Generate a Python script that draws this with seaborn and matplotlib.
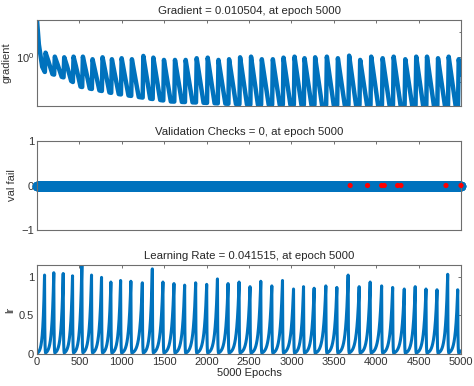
import numpy as np
import pandas as pd
import seaborn as sns
import matplotlib
matplotlib.use("Agg")
from matplotlib import pyplot as plt
from matplotlib.ticker import FixedLocator, NullFormatter

# learning-rate sawtooth: peak epochs and peak heights
lr_peak_epochs = [89, 198, 309, 419, 529, 643, 761, 871, 986, 1107,
                  1242, 1360, 1485, 1615, 1741, 1871, 2001, 2128, 2253, 2383,
                  2512, 2639, 2769, 2895, 3025, 3143, 3268, 3406, 3536, 3669,
                  3799, 3929, 4064, 4194, 4331, 4460, 4587, 4717, 4843, 4961]
lr_peak_values = [1.02, 1.05, 1.04, 1.01, 1.14, 1.02, 0.99, 0.93, 0.95, 0.94,
                  0.92, 1.10, 0.93, 0.91, 0.89, 0.92, 0.90, 0.97, 0.91, 0.93,
                  0.87, 0.94, 0.88, 0.95, 0.84, 0.87, 0.85, 0.88, 0.86, 1.02,
                  0.87, 0.93, 0.88, 0.86, 0.84, 0.87, 0.84, 0.83, 1.03, 0.83]
lr_start = 0.01
lr_final = 0.041515
lr_dec = 0.7       # factor per epoch after a peak
lr_dec_epochs = 12

# gradient teeth (one per lr peak) and the slowly falling floor between them
grad_peak_values = [1.49, 1.03, 0.97, 1.03, 1.03, 0.81, 0.97, 0.81, 0.89, 0.81,
                    1.10, 0.94, 0.76, 0.76, 0.76, 0.89, 0.94, 0.76, 0.81, 0.97,
                    1.03, 0.81, 0.81, 0.94, 1.03, 0.89, 0.97, 1.03, 0.89, 1.13,
                    0.76, 1.03, 0.89, 1.03, 0.81, 1.03, 1.03, 0.89, 1.03, 0.81]
grad_floor_epochs = [0, 20, 60, 90, 350, 515, 905, 1300, 1576, 2500, 5000]
grad_floor_values = [31, 3.6, 0.41, 0.25, 0.138, 0.063, 0.034, 0.0216, 0.016, 0.012, 0.011]
grad_lag = 12
grad_rise = 8
grad_decay = 80

# epochs where the validation-fail panel shows red markers
valfail_red_epochs = [3693, 3898, 4064, 4095, 4253, 4292, 4823, 5000]

n_epochs = 5000
blue = "#0072BD"

epochs = np.arange(0, n_epochs + 1)

# learning rate: geometric climb to each peak, then cut by lr_dec per epoch
lr = np.zeros(len(epochs))
start_e, start_v = 0, lr_start
for pe, pv in zip(lr_peak_epochs, lr_peak_values):
    seg = np.arange(start_e, pe + 1)
    lr[seg] = start_v * (pv / start_v) ** ((seg - start_e) / (pe - start_e))
    for d in range(1, lr_dec_epochs + 1):
        if pe + d <= n_epochs:
            lr[pe + d] = pv * lr_dec ** d
    start_e = min(pe + lr_dec_epochs, n_epochs)
    start_v = lr[start_e]
seg = np.arange(start_e, n_epochs + 1)
lr[seg] = start_v * (lr_final / start_v) ** ((seg - start_e) / (n_epochs - start_e))

# gradient: log-interpolated floor with a tooth after every lr peak
log_floor = np.interp(epochs, grad_floor_epochs, np.log10(grad_floor_values))
log_g = log_floor.copy()
for pe, pv in zip(lr_peak_epochs, grad_peak_values):
    pk = pe + grad_lag
    lv = np.log10(pv)
    t = epochs
    rise = (t >= pk - grad_rise) & (t <= pk)
    tooth = np.full(len(t), -np.inf)
    tooth[rise] = log_floor[rise] + (lv - log_floor[rise]) * (t[rise] - (pk - grad_rise)) / grad_rise
    dec = (t > pk) & (t <= pk + grad_decay)
    tooth[dec] = lv + (log_floor[dec] - lv) * (t[dec] - pk) / grad_decay
    log_g = np.maximum(log_g, tooth)
grad = 10 ** log_g

df = pd.DataFrame({"epoch": epochs, "gradient": grad, "val_fail": 0.0, "lr": lr})
red = pd.DataFrame({"epoch": valfail_red_epochs, "val_fail": 0.0})

sns.set_style("white")
plt.rcParams["font.family"] = ["Liberation Sans", "DejaVu Sans"]
plt.rcParams["mathtext.default"] = "regular"
plt.rcParams["font.size"] = 8

fig = plt.figure(figsize=(4.74, 3.86), dpi=100)
W, H = 474, 386
left, width = 37 / W, 424 / W
ax1 = fig.add_axes([left, 1 - 106 / H, width, 86 / H])
ax2 = fig.add_axes([left, 1 - 230 / H, width, 89 / H])
ax3 = fig.add_axes([left, 1 - 354 / H, width, 89 / H])

sns.lineplot(data=df, x="epoch", y="gradient", ax=ax1, color=blue, linewidth=3.2)
ax1.set_yscale("log")
ax1.set_ylim(0.0105, 31)
ax1.yaxis.set_major_locator(FixedLocator([0.01, 1, 100]))
ax1.yaxis.set_minor_locator(FixedLocator([0.1, 10]))
ax1.yaxis.set_minor_formatter(NullFormatter())
ax1.set_yticks([1], ["$10^0$"])
ax1.set_title("Gradient = 0.010504, at epoch 5000", fontsize=8.2, pad=4)
ax1.set_ylabel("gradient")

sns.lineplot(data=df, x="epoch", y="val_fail", ax=ax2, color=blue, linewidth=1.5,
             marker="o", markersize=5.8, markerfacecolor="none",
             markeredgecolor=blue, markeredgewidth=1.0, clip_on=False)
sns.scatterplot(data=red, x="epoch", y="val_fail", ax=ax2, color="red", s=14,
                edgecolor="none", zorder=4, clip_on=False)
ax2.set_ylim(-1, 1)
ax2.set_yticks([-1, 0, 1])
ax2.set_title("Validation Checks = 0, at epoch 5000", fontsize=8.2, pad=4)
ax2.set_ylabel("val fail")

sns.lineplot(data=df, x="epoch", y="lr", ax=ax3, color=blue, linewidth=2.2)
ax3.set_ylim(0, 1.15)
ax3.set_yticks([0, 0.5, 1], ["0", "0.5", "1"])
ax3.set_title("Learning Rate = 0.041515, at epoch 5000", fontsize=8.2, pad=4)
ax3.set_ylabel("lr")
ax3.set_xlabel("5000 Epochs", labelpad=1)

for ax in (ax1, ax2, ax3):
    ax.set_xlim(0, n_epochs)
    ax.set_xticks(np.arange(0, n_epochs + 1, 500))
    if ax is not ax3:
        ax.set_xticklabels([])
        ax.set_xlabel("")
    ax.tick_params(which="both", direction="in", top=True, right=True,
                   length=2.5, width=0.6, color="#5a5a5a", labelsize=8,
                   labelcolor="#333333", pad=2)
    ax.tick_params(which="minor", length=1.5)
    for s in ax.spines.values():
        s.set_color("#6e6e6e")
        s.set_linewidth(0.8)
    ax.yaxis.label.set_color("#333333")
    ax.yaxis.labelpad = 3

fig.savefig("out.png", dpi=100)
